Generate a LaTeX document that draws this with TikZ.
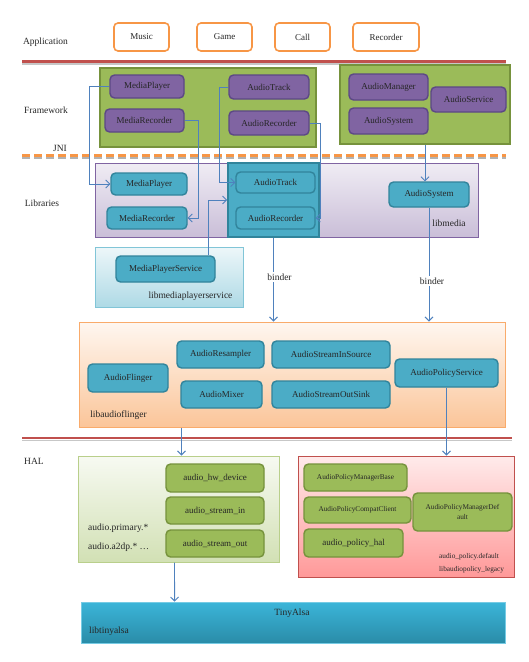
\documentclass[tikz,border=0pt]{standalone}
\usepackage{fontspec}
\setmainfont{Liberation Serif}
\usetikzlibrary{arrows.meta,shadows,calc}
\definecolor{corange}{HTML}{F79646}
\definecolor{purpF}{HTML}{8064A2}
\definecolor{purpD}{HTML}{5C4885}
\definecolor{tealF}{HTML}{4BACC6}
\definecolor{tealD}{HTML}{31849B}
\definecolor{oliveF}{HTML}{9BBB59}
\definecolor{oliveD}{HTML}{76923C}
\definecolor{connC}{HTML}{4F81BD}
\definecolor{sepred}{HTML}{C0504D}
\definecolor{tinyTop}{HTML}{3BB5D9}
\definecolor{tinyBot}{HTML}{2A8CA8}
\begin{document}
\begin{tikzpicture}[x=1pt,y=-1pt,
  every node/.style={font=\fontsize{9}{10}\selectfont, text=black!85},
  sz/.style 2 args={minimum width=#1pt, minimum height=#2pt},
  box/.style={rectangle, inner sep=0pt, align=center},
  shad/.style={drop shadow={opacity=0.25, shadow xshift=1.2pt, shadow yshift=-1.2pt}},
  appbox/.style={box, rounded corners=4pt, draw=corange, line width=1.6pt, fill=white},
  purpnode/.style={box, rounded corners=4.5pt, draw=purpD, line width=1.4pt, fill=purpF},
  tealnode/.style={box, rounded corners=4.5pt, draw=tealD, line width=1.4pt, fill=tealF},
  olivenode/.style={box, rounded corners=4.5pt, draw=oliveD, line width=1.4pt, fill=oliveF},
  lbl/.style={font=\fontsize{9.5}{11}\selectfont, inner sep=0pt},
  small/.style={font=\fontsize{7.3}{9}\selectfont, inner sep=0pt},
  conn/.style={draw=connC, line width=0.9pt, -{Straight Barb[length=4pt,width=8pt]}}
]
\useasboundingbox (0,0) rectangle (529,662);

% ---------- separators ----------
\draw[line width=1.8pt, black!22] (22,64) -- (506,64);
\draw[line width=2.2pt, sepred] (22,61.5) -- (506,61.5);
\draw[line width=2.2pt, black!30, dash pattern=on 8pt off 4pt] (22,158) -- (506,158);
\draw[line width=2.6pt, corange, dash pattern=on 8pt off 4pt] (22,155.6) -- (506,155.6);
\draw[line width=1.8pt, black!22] (22,440.5) -- (512,440.5);
\draw[line width=2.2pt, sepred] (22,438) -- (512,438);

% ---------- layer labels ----------
\node[lbl] (lApp) at (45.5,42) {Application};
\node[lbl] (lFw) at (46,110) {Framework};
\node[lbl] (lJni) at (60,148.5) {JNI};
\node[lbl] (lLib) at (42,203) {Libraries};
\node[lbl] (lHal) at (34,461) {HAL};

% ---------- applications ----------
\node[appbox, sz={55}{28}] (music) at (141.5,37) {Music};
\node[appbox, sz={55}{28}] (game) at (224.5,37) {Game};
\node[appbox, sz={55}{28}] (call) at (302.5,37) {Call};
\node[appbox, sz={66}{28}] (rec) at (386,37) {Recorder};

% ---------- framework ----------
\node[box, shad, draw=oliveD, line width=1.4pt, fill=oliveF, sz={216}{79}] (fwL) at (208,107.5) {};
\node[box, shad, draw=oliveD, line width=1.4pt, fill=oliveF, sz={170}{79}] (fwR) at (425,104.5) {};
\node[purpnode, sz={74}{23}] (fmp) at (147,86.5) {MediaPlayer};
\node[purpnode, sz={80}{24}] (fat) at (269,87) {AudioTrack};
\node[purpnode, sz={79}{23}] (fmr) at (144.5,120.5) {MediaRecorder};
\node[purpnode, sz={80}{24}] (far) at (269,123) {AudioRecorder};
\node[purpnode, sz={79}{26}] (fam) at (388.5,87) {AudioManager};
\node[purpnode, sz={75}{25}] (fas) at (468.5,99.5) {AudioService};
\node[purpnode, sz={79}{26}] (fsy) at (388.5,121) {AudioSystem};

% ---------- libraries ----------
\node[box, shad, draw=purpF, line width=1pt, top color=purpF!12, bottom color=purpF!42, sz={383}{74}] (libmedia) at (286.5,200) {};
\node[box, draw=tealD, line width=1.6pt, fill=tealF, sz={91}{74}] (cont) at (273.5,200) {};
\node[tealnode, sz={76}{22}] (lmp) at (149,184) {MediaPlayer};
\node[tealnode, sz={80}{22}] (lmr) at (147,218) {MediaRecorder};
\node[tealnode, sz={79}{21}] (lat) at (275.5,182.5) {AudioTrack};
\node[tealnode, sz={79}{22}] (lar) at (275.5,218) {AudioRecorder};
\node[tealnode, sz={80}{25}] (las) at (429,194.5) {AudioSystem};
\node[lbl] (tLibmedia) at (449,223) {libmedia};

\node[box, shad, draw=tealF!70, line width=1pt, top color=tealF!10, bottom color=tealF!45, sz={148}{60}] (mpsbox) at (169,277) {};
\node[tealnode, sz={99}{26}] (mps) at (165.5,269) {MediaPlayerService};
\node[lbl] (tMps) at (190.5,296) {libmediaplayerservice};

% ---------- libaudioflinger ----------
\node[box, shad, draw=corange!80, line width=1pt, top color=corange!8, bottom color=corange!55, sz={426}{105}] (laf) at (292,374.5) {};
\node[tealnode, sz={80}{28}] (afl) at (128,378) {AudioFlinger};
\node[tealnode, sz={87}{27}] (ares) at (220.5,354.5) {AudioResampler};
\node[tealnode, sz={81}{27}] (amix) at (221.5,394.5) {AudioMixer};
\node[tealnode, sz={118}{27}] (ain) at (331,354.5) {AudioStreamInSource};
\node[tealnode, sz={118}{27}] (aout) at (331,394.5) {AudioStreamOutSink};
\node[tealnode, sz={103}{28}] (aps) at (446.5,373) {AudioPolicyService};
\node[lbl] (tLaf) at (118.5,415) {libaudioflinger};

% ---------- HAL ----------
\node[box, shad, draw=oliveF!70, line width=1pt, top color=oliveF!8, bottom color=oliveF!45, sz={201}{106}] (halL) at (178.5,509) {};
\node[olivenode, sz={98}{28}] (hw) at (215,478) {audio\_hw\_device};
\node[olivenode, sz={98}{27}] (sin) at (215,510.5) {audio\_stream\_in};
\node[olivenode, sz={98}{27}] (sout) at (215,543.5) {audio\_stream\_out};
\node[lbl, anchor=west] (tPrim) at (88,528) {audio.primary.*};
\node[lbl, anchor=west] (tA2dp) at (88,547) {audio.a2dp.* …};

\node[box, shad, draw=sepred, line width=1pt, top color=red!8, bottom color=red!40, sz={216}{121}] (pol) at (406,516.5) {};
\node[olivenode, sz={103}{27}, small] (apmb) at (355.5,477.5) {AudioPolicyManagerBase};
\node[olivenode, sz={107}{26}, small] (apcc) at (357.5,510) {AudioPolicyCompatClient};
\node[olivenode, sz={99}{38}, small] (apmd) at (462.5,512) {AudioPolicyManagerDef\\[1pt]ault};
\node[olivenode, sz={99}{28}] (aph) at (353.5,543) {audio\_policy\_hal};
\node[small, anchor=west] (tApd) at (439,557) {audio\_policy.default};
\node[small, anchor=west] (tLeg) at (439,570) {libaudiopolicy\_legacy};

% ---------- TinyAlsa ----------
\node[box, shad, draw=tinyTop!70!white, line width=0.8pt, top color=tinyTop, bottom color=tinyBot, sz={424}{41}] (tiny) at (293,622.5) {};
\node[lbl] (tTiny) at (292,613) {TinyAlsa};
\node[lbl, anchor=west] (tLibTiny) at (89,631) {libtinyalsa};

% ---------- connectors ----------
\draw[conn] (fmp.west) -- ++(-20,0) |- (lmp.west);
\draw[conn] (fmr.east) -- ++(14,0) |- (lmr.east);
\draw[conn] (fat.west) -- ++(-9,0) |- (lat.west);
\draw[conn] (far.east) -- ++(11,0) |- (lar.east);
\draw[conn] ([xshift=-7pt]mps.north east) |- (cont.west);
\draw[conn] (fwR.south) -- (fwR.south |- las.north);
\draw[conn] (cont.south) -- (cont.south |- laf.north);
\draw[conn] (las.south) -- (las.south |- laf.north);
\draw[conn] ([xshift=103pt]laf.south west) -- ([xshift=104pt]halL.north west);
\draw[conn] (aps.south) -- (aps.south |- pol.north);
\draw[conn] ([xshift=97pt]halL.south west) -- ([xshift=94pt]tiny.north west);

\node[lbl, fill=white, inner sep=1.5pt] (bind1) at (279.5,277) {binder};
\node[lbl, fill=white, inner sep=1.5pt] (bind2) at (432,281) {binder};
\end{tikzpicture}
\end{document}
